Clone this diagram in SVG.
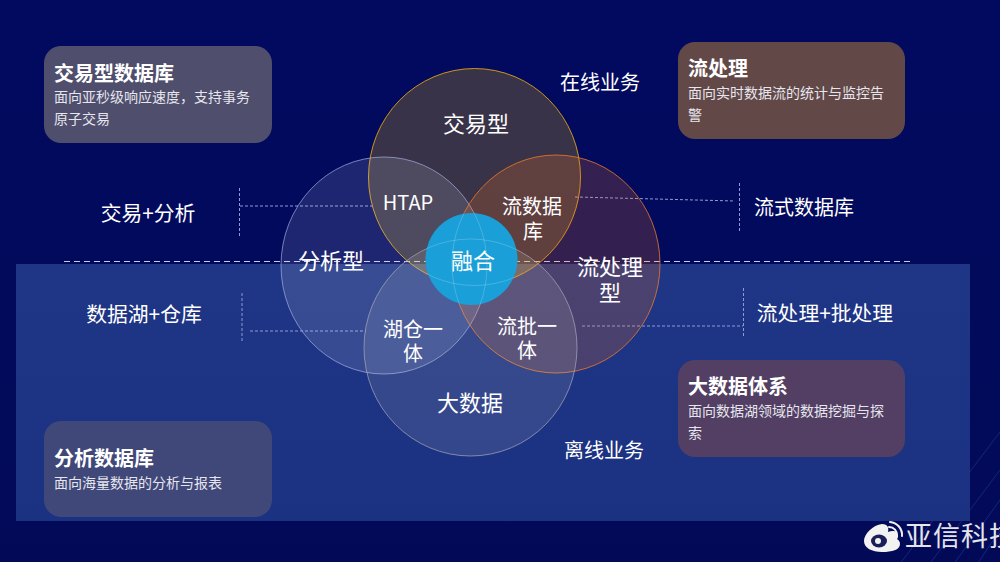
<svg xmlns="http://www.w3.org/2000/svg" width="1000" height="562" viewBox="0 0 1000 562">
<style>
text{font-family:"Noto Sans CJK SC","Noto Sans",sans-serif;fill:#fff}
.l{font-size:20px;text-anchor:middle}
.w{font-size:20.800px;text-anchor:middle}
.xl{font-size:22px;text-anchor:middle}
.t{font-size:20px;font-weight:700}
.s{font-size:14px;fill:#e6e6ee}
.dash{fill:none;stroke:#8f9bd8;stroke-width:1;stroke-dasharray:3 2}
.major{fill:none;stroke:#c4cdf0;stroke-width:1;stroke-dasharray:6 4}
.deco{fill:none;stroke:#1c3a9a;stroke-width:1;opacity:.6}
.gold{stroke:#e8a810;stroke-width:1;stroke-opacity:.85}
.orange{stroke:#e87a2a;stroke-width:1;stroke-opacity:.8}
.pale{stroke:#aab6e8;stroke-width:1;stroke-opacity:.65}
.grey{stroke:#a8a8b8;stroke-width:1;stroke-opacity:.7}
.arc{fill:none;stroke:#fff;stroke-opacity:.2;stroke-width:1}
</style>
<defs>
<linearGradient id="bg" x1="0" y1="0" x2="0" y2="1"><stop offset="0" stop-color="#020a60"/><stop offset="1" stop-color="#020a58"/></linearGradient>
<linearGradient id="band" x1="0" y1="0" x2="0" y2="1"><stop offset="0" stop-color="#1f3585"/><stop offset="1" stop-color="#1b3182"/></linearGradient>
<clipPath id="cc"><circle cx="471.500" cy="259" r="46"/></clipPath>
</defs>
<rect width="1000" height="562" fill="url(#bg)"/>
<g id="decor">
<path class="deco" d="M1000 432L880 590M1000 470L910 590M1000 500L935 590M1000 530L960 590"/>
</g>
<rect id="band-lower" x="16" y="264" width="954" height="257" fill="url(#band)"/>
<g id="watermark">
<path d="M864 541c0-7 9-16 18-17 6 0 7 4 6 8 5-2 10-1 10 4 0 1 0 2-1 3 2 1 3 3 3 5 0 6-8 8-18 8-10 0-18-4-18-11z" fill="#f2f2f2"/>
<ellipse cx="879" cy="541" rx="8" ry="6.500" fill="#1a1f5a"/>
<circle cx="878" cy="541" r="3" fill="#f2f2f2"/>
<path d="M889 527a8 8 0 0 1 8 9M890 522a13 13 0 0 1 12 14" fill="none" stroke="#f2f2f2" stroke-width="2" stroke-linecap="round"/>
<text x="905" y="546" font-size="27" style="fill:#e4e4ea;letter-spacing:1px">亚信科技</text>
</g>
<g id="connectors">
<path class="major" d="M64 261.500H910"/>
<path class="dash" d="M239.500 188V236M240 206H372"/>
<path class="dash" d="M242 293V341M250 331H366"/>
<path class="dash" d="M739.500 183V231M575 197L735 201"/>
<path class="dash" d="M743.500 288V336M582 326H743"/>
</g>
<g id="node-transaction"><ellipse cx="474.500" cy="177" rx="106" ry="108.500" fill="#ffc800" fill-opacity=".22" class="gold"/><text class="xl" x="476" y="132">交易型</text></g>
<g id="node-analysis"><ellipse cx="384" cy="265.500" rx="103" ry="108.500" fill="#dfe4ff" fill-opacity=".13" class="pale"/><text class="xl" x="331" y="269">分析型</text></g>
<g id="node-stream"><ellipse cx="556" cy="264" rx="104" ry="109" fill="#ff7a20" fill-opacity=".2" class="orange"/><text class="xl" x="610" y="275">流处理</text><text class="xl" x="610" y="301">型</text></g>
<g id="node-bigdata"><ellipse cx="470.500" cy="347.500" rx="106.500" ry="108.500" fill="#d8d8c8" fill-opacity=".13" class="grey"/><text class="xl" x="470" y="411">大数据</text></g>
<g id="node-htap"><text class="l" x="408" y="210">HTAP</text></g>
<g id="node-streamdb"><text class="l" x="532" y="214">流数据</text><text class="l" x="533" y="239">库</text></g>
<g id="node-lakehouse"><text class="l" x="413" y="337">湖仓一</text><text class="l" x="413" y="361">体</text></g>
<g id="node-streambatch"><text class="l" x="527" y="334">流批一</text><text class="l" x="527" y="358">体</text></g>
<g id="node-fusion"><circle cx="471.500" cy="259" r="46" fill="#1a9fd8"/>
<g clip-path="url(#cc)"><ellipse class="arc" cx="474.500" cy="177" rx="106" ry="108.500"/><ellipse class="arc" cx="384" cy="265.500" rx="103" ry="108.500"/><ellipse class="arc" cx="556" cy="264" rx="104" ry="109"/><ellipse class="arc" cx="470.500" cy="347.500" rx="106.500" ry="108.500"/></g>
<text class="xl" x="473" y="269">融合</text></g>
<g id="label-online"><text class="l" x="600" y="90">在线业务</text></g>
<g id="label-offline"><text class="l" x="604" y="458">离线业务</text></g>
<g id="label-ta"><text class="w" x="148" y="221">交易+分析</text></g>
<g id="label-lake"><text class="w" x="144" y="322">数据湖+仓库</text></g>
<g id="label-streamdb"><text class="l" x="804" y="215">流式数据库</text></g>
<g id="label-sb"><text class="w" x="825" y="321">流处理+批处理</text></g>
<g id="box-oltp"><rect x="44" y="46" width="228" height="97" rx="17" fill="#4f4e6c"/><text class="t" x="54" y="81">交易型数据库</text><text class="s" x="54" y="102">面向亚秒级响应速度，支持事务</text><text class="s" x="54" y="124">原子交易</text></g>
<g id="box-stream"><rect x="678" y="42" width="227" height="97" rx="17" fill="#624847"/><text class="t" x="688" y="76">流处理</text><text class="s" x="688" y="98">面向实时数据流的统计与监控告</text><text class="s" x="688" y="120">警</text></g>
<g id="box-bigdata"><rect x="678" y="360" width="227" height="97" rx="17" fill="#523f63"/><text class="t" x="688" y="394">大数据体系</text><text class="s" x="688" y="416">面向数据湖领域的数据挖掘与探</text><text class="s" x="688" y="438">索</text></g>
<g id="box-olap"><rect x="44" y="421" width="228" height="96" rx="17" fill="#3f4879"/><text class="t" x="54" y="466">分析数据库</text><text class="s" x="54" y="488">面向海量数据的分析与报表</text></g>
</svg>
